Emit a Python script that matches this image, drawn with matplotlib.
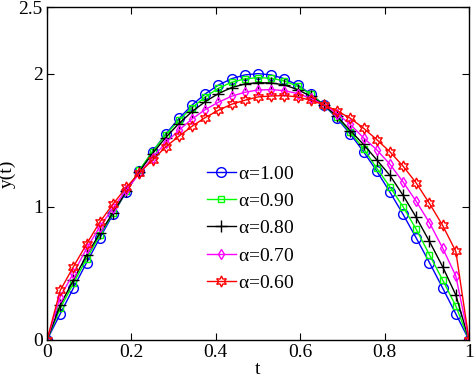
"""Fractional solution curves y(t) for several alpha values."""
import numpy as np
from matplotlib import pyplot as plt
from matplotlib import rc
rc('font', family='Liberation Serif', size=14)
rc('mathtext', fontset='custom', rm='Liberation Serif', it='Liberation Serif')

# grid of t values (33 points, 0 to 1)
t = np.linspace(0, 1, 33)

y_100 = [0, 0.196, 0.390, 0.581, 0.765, 0.943, 1.111, 1.269, 1.414, 1.546,
         1.663, 1.764, 1.848, 1.914, 1.962, 1.990, 2.0, 1.990, 1.962, 1.914,
         1.848, 1.764, 1.663, 1.546, 1.414, 1.269, 1.111, 0.943, 0.765, 0.581,
         0.390, 0.196, 0]
y_090 = [0, 0.237, 0.425, 0.610, 0.787, 0.950, 1.115, 1.275, 1.415, 1.540,
         1.650, 1.745, 1.825, 1.890, 1.935, 1.960, 1.970, 1.965, 1.945, 1.905,
         1.845, 1.765, 1.672, 1.560, 1.436, 1.290, 1.150, 1.000, 0.830, 0.640,
         0.450, 0.255, 0]
y_080 = [0, 0.262, 0.450, 0.637, 0.800, 0.955, 1.115, 1.265, 1.400, 1.520,
         1.625, 1.715, 1.790, 1.850, 1.895, 1.922, 1.932, 1.930, 1.915, 1.880,
         1.830, 1.765, 1.678, 1.572, 1.468, 1.353, 1.236, 1.086, 0.920, 0.740,
         0.550, 0.337, 0]
y_070 = [0, 0.325, 0.500, 0.687, 0.850, 0.990, 1.125, 1.250, 1.370, 1.480,
         1.575, 1.660, 1.730, 1.785, 1.830, 1.860, 1.877, 1.880, 1.872, 1.850,
         1.815, 1.765, 1.700, 1.618, 1.518, 1.428, 1.320, 1.186, 1.040, 0.880,
         0.690, 0.480, 0]
y_060 = [0, 0.372, 0.550, 0.720, 0.885, 1.020, 1.145, 1.255, 1.350, 1.450,
         1.530, 1.605, 1.670, 1.725, 1.770, 1.800, 1.825, 1.832, 1.835, 1.825,
         1.800, 1.765, 1.720, 1.665, 1.590, 1.505, 1.413, 1.305, 1.178, 1.025,
         0.860, 0.665, 0]

series = [y_100, y_090, y_080, y_070, y_060]
labels = [r'$\alpha$=1.00', r'$\alpha$=0.90', r'$\alpha$=0.80',
          r'$\alpha$=0.70', r'$\alpha$=0.60']
colors = ['#0000ff', '#00ff00', '#000000', '#ff00ff', '#ff0000']
markers = ['o', 's', '+', 'd', (6, 1, 0)]
msizes = [7, 5, 8, 5, 8]

fig = plt.figure(figsize=(4.74, 3.83), dpi=100)
ax = fig.add_axes([0.0992, 0.1123, 0.8903, 0.8694])

for y, lab, c, m, ms in zip(series, labels, colors, markers, msizes):
    ax.plot(t, y, color=c, marker=m, markersize=ms, markerfacecolor='none',
            markeredgecolor=c, markeredgewidth=1.0, linewidth=1.0, label=lab)

ax.set_xlim(0, 1)
ax.set_ylim(0, 2.5)
ax.set_xticks([0, 0.2, 0.4, 0.6, 0.8, 1])
ax.set_xticklabels(['0', '0.2', '0.4', '0.6', '0.8', '1'])
ax.set_yticks([0, 1, 2, 2.5])
ax.set_yticklabels(['0', '1', '2', '2.5'])
ax.tick_params(direction='in', top=True, right=True, length=5, pad=3)
for s in ax.spines.values():
    s.set_linewidth(1.0)

ax.set_xlabel('t', labelpad=0)
ax.set_ylabel('y(t)', labelpad=2)

ax.legend(loc='center left', bbox_to_anchor=(0.346, 0.335), frameon=False,
          handlelength=1.5, handletextpad=0.1, labelspacing=0.5,
          borderpad=0.2)

plt.savefig('out.png', dpi=100)
